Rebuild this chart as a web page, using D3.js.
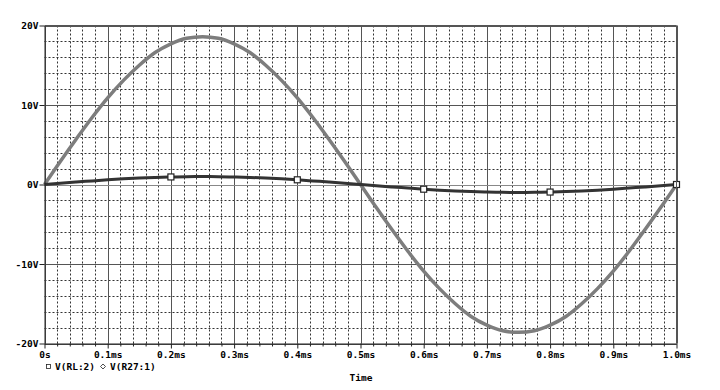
<!DOCTYPE html>
<html>
<head>
<meta charset="utf-8">
<title>V(RL:2) / V(R27:1)</title>
<script src="https://d3js.org/d3.v7.min.js"></script>
<style>
  body { margin: 0; background: #fff; }
  text { font-family: "DejaVu Sans Mono", monospace; font-weight: bold; font-size: 9px; fill: #000; }
</style>
</head>
<body>
<script>
// time samples in ms
var timeMs = [0, 0.025, 0.05, 0.075, 0.1, 0.125, 0.15, 0.175, 0.2, 0.225,
              0.25, 0.275, 0.3, 0.325, 0.35, 0.375, 0.4, 0.425, 0.45, 0.475,
              0.5, 0.525, 0.55, 0.575, 0.6, 0.625, 0.65, 0.675, 0.7, 0.725,
              0.75, 0.775, 0.8, 0.825, 0.85, 0.875, 0.9, 0.925, 0.95, 0.975, 1.0];

// V(R27:1) - big grey trace
var vR27 = [0, 2.9, 5.7, 8.4, 10.9, 13.1, 15.0, 16.6, 17.7, 18.4,
            18.6, 18.4, 17.7, 16.6, 15.0, 13.1, 10.9, 8.4, 5.7, 2.9,
            0, -2.9, -5.7, -8.4, -10.9, -13.1, -15.0, -16.6, -17.7, -18.4,
            -18.6, -18.4, -17.7, -16.6, -15.0, -13.1, -10.9, -8.4, -5.7, -2.9, 0];

// V(RL:2) - small dark trace
var vRL = [0, 0.16, 0.31, 0.45, 0.59, 0.71, 0.81, 0.89, 0.95, 0.99,
           1.0, 0.99, 0.95, 0.89, 0.81, 0.71, 0.59, 0.45, 0.31, 0.16,
           0, -0.16, -0.31, -0.45, -0.59, -0.71, -0.81, -0.89, -0.95, -0.99,
           -1.0, -0.99, -0.95, -0.89, -0.81, -0.71, -0.59, -0.45, -0.31, -0.16, 0];

// marker times on V(RL:2)
var markerTimes = [0.2, 0.4, 0.6, 0.8, 1.0];

var xTicks = [0, 0.1, 0.2, 0.3, 0.4, 0.5, 0.6, 0.7, 0.8, 0.9, 1.0];
var xTickLabels = ["0s", "0.1ms", "0.2ms", "0.3ms", "0.4ms", "0.5ms", "0.6ms", "0.7ms", "0.8ms", "0.9ms", "1.0ms"];
var yTicks = [-20, -10, 0, 10, 20];
var yTickLabels = ["-20V", "-10V", "0V", "10V", "20V"];

var w = 720, h = 390;
var fontStack = "'DejaVu Sans Mono', 'Liberation Mono', monospace";

var svg = d3.select("body").append("svg")
  .attr("width", w)
  .attr("height", h);

var x = d3.scaleLinear().domain([0, 1]).range([44.5, 676.5]);
var y = d3.scaleLinear().domain([-20, 20]).range([343.5, 25.5]);

// minor grid (dotted)
var minorX = d3.range(0, 51).map(function(i) { return i * 0.02; }).filter(function(d, i) { return i % 5 != 0; });
var minorY = d3.range(-20, 21, 2).filter(function(d) { return d % 10 != 0; });

var grid = svg.append("g");
grid.selectAll(".mx").data(minorX).enter().append("line")
  .attr("x1", function(d) { return Math.round(x(d)) + 0.5; })
  .attr("x2", function(d) { return Math.round(x(d)) + 0.5; })
  .attr("y1", y(20)).attr("y2", y(-20))
  .attr("stroke", "#333").attr("stroke-dasharray", "2,2");
grid.selectAll(".my").data(minorY).enter().append("line")
  .attr("y1", function(d) { return Math.round(y(d)) + 0.5; })
  .attr("y2", function(d) { return Math.round(y(d)) + 0.5; })
  .attr("x1", x(0)).attr("x2", x(1))
  .attr("stroke", "#333").attr("stroke-dasharray", "2,2");

// major grid (solid)
grid.selectAll(".Mx").data(xTicks).enter().append("line")
  .attr("x1", function(d) { return Math.round(x(d)) + 0.5; })
  .attr("x2", function(d) { return Math.round(x(d)) + 0.5; })
  .attr("y1", y(20)).attr("y2", y(-20))
  .attr("stroke", "#555");
grid.selectAll(".My").data(yTicks).enter().append("line")
  .attr("y1", function(d) { return Math.round(y(d)) + 0.5; })
  .attr("y2", function(d) { return Math.round(y(d)) + 0.5; })
  .attr("x1", x(0)).attr("x2", x(1))
  .attr("stroke", function(d) { return d == 0 ? "#888" : "#555"; });

// traces
var traceLine = d3.line()
  .x(function(d, i) { return x(timeMs[i]); })
  .y(function(d) { return y(d); })
  .curve(d3.curveMonotoneX);

svg.append("path")
  .datum(vR27)
  .attr("d", traceLine)
  .attr("fill", "none")
  .attr("stroke", "#7d7d7d")
  .attr("stroke-width", 3.5);

svg.append("path")
  .datum(vRL)
  .attr("d", traceLine)
  .attr("fill", "none")
  .attr("stroke", "#333")
  .attr("stroke-width", 3);

// square markers on V(RL:2)
svg.selectAll(".mk").data(markerTimes).enter().append("rect")
  .attr("x", function(d) { return x(d) - 3; })
  .attr("y", function(d) { return y(vRL[timeMs.indexOf(d)]) - 3; })
  .attr("width", 6).attr("height", 6)
  .attr("fill", "#fff").attr("stroke", "#222").attr("stroke-width", 1.2);

// axes
var xAxis = svg.append("g")
  .attr("transform", "translate(0," + y(-20) + ")")
  .call(d3.axisBottom(x).tickValues(xTicks).tickSize(5).tickSizeOuter(0)
    .tickFormat(function(d, i) { return xTickLabels[i]; }));
svg.append("g")
  .attr("transform", "translate(0," + y(-20) + ")")
  .call(d3.axisBottom(x).tickValues(minorX).tickSize(3).tickFormat(""))
  .select(".domain").remove();
xAxis.selectAll("text").attr("y", 7).attr("dy", "0.75em");

var yAxis = svg.append("g")
  .attr("transform", "translate(" + x(0) + ",0)")
  .call(d3.axisLeft(y).tickValues(yTicks).tickSize(5).tickSizeOuter(0)
    .tickFormat(function(d, i) { return yTickLabels[i]; }));
yAxis.selectAll("text").attr("x", -6);

svg.selectAll(".domain, .tick line").attr("stroke", "#222");

// frame top and right
svg.append("line").attr("x1", x(0)).attr("x2", x(1)).attr("y1", y(20)).attr("y2", y(20)).attr("stroke", "#555");
svg.append("line").attr("x1", x(1)).attr("x2", x(1)).attr("y1", y(20)).attr("y2", y(-20)).attr("stroke", "#555");

// legend
var leg = svg.append("g");
leg.append("rect").attr("x", 46.5).attr("y", 364.5).attr("width", 4).attr("height", 4)
  .attr("fill", "#fff").attr("stroke", "#222").attr("stroke-width", 0.8);
leg.append("text").attr("x", 55).attr("y", 370).text("V(RL:2)");
leg.append("path").attr("d", "M103,364 L105.5,366.5 L103,369 L100.5,366.5 Z")
  .attr("fill", "#fff").attr("stroke", "#222").attr("stroke-width", 0.8);
leg.append("text").attr("x", 110).attr("y", 370).text("V(R27:1)");

// axis label
svg.append("text")
  .attr("x", 361).attr("y", 381)
  .attr("text-anchor", "middle")
  .text("Time");

// force the bitmap-like bold mono look on every label
svg.selectAll("text")
  .style("font-family", fontStack)
  .style("font-weight", "bold")
  .style("font-size", "9.5px")
  .attr("fill", "#000");
</script>
</body>
</html>
